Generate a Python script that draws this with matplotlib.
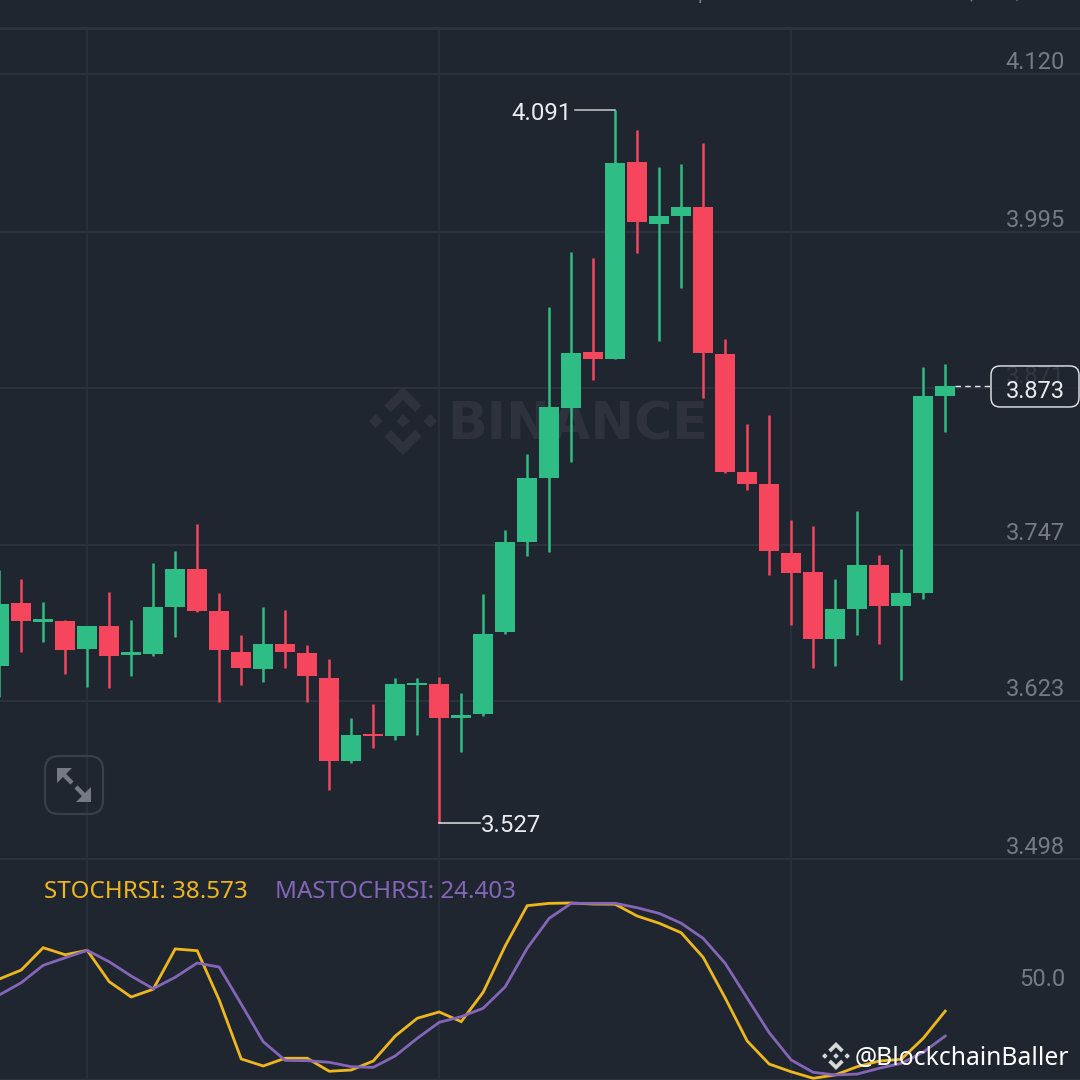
"""
plot.py - candlestick chart with STOCHRSI panel, dark exchange theme
PRODUCES: out.png (1080x1080)
"""

import numpy as np
import matplotlib
matplotlib.use("Agg")
import matplotlib.pyplot as plt
from matplotlib.patches import FancyBboxPatch, Polygon

plt.rcParams["font.family"] = ["Roboto", "DejaVu Sans"]

# ── Data ─────────────────────────────────────────────────────────────────────

opens = [3.6509, 3.7006, 3.6858, 3.6866, 3.6646, 3.6826, 3.6596, 3.6607, 3.6977, 3.7275,
         3.6945, 3.6622, 3.6488, 3.6683, 3.6614, 3.6414, 3.5754, 3.5973, 3.5957, 3.6356,
         3.6366, 3.6097, 3.6126, 3.6776, 3.7489, 3.8001, 3.8551, 3.8999, 3.8944, 4.0503,
         4.0014, 4.0072, 4.0144, 3.8981, 3.8049, 3.7949, 3.7407, 3.7256, 3.6725, 3.6958,
         3.7307, 3.6987, 3.7090, 3.8651]
highs = [3.7270, 3.7196, 3.7016, 3.6874, 3.6826, 3.7095, 3.6874, 3.7325, 3.7418, 3.7637,
         3.7085, 3.6755, 3.6974, 3.6955, 3.6675, 3.6565, 3.6095, 3.6206, 3.6414, 3.6414,
         3.6424, 3.6293, 3.7077, 3.7587, 3.8189, 3.9351, 3.9792, 3.9742, 4.0912, 4.0756,
         4.0463, 4.0485, 4.0653, 3.9100, 3.8427, 3.8498, 3.7666, 3.7618, 3.7198, 3.7737,
         3.7389, 3.7436, 3.8881, 3.8900]
lows = [3.6266, 3.6618, 3.6697, 3.6448, 3.6345, 3.6337, 3.6427, 3.6588, 3.6736, 3.6937,
        3.6226, 3.6356, 3.6385, 3.6496, 3.6226, 3.5524, 3.5738, 3.5857, 3.5925, 3.5962,
        3.5267, 3.5825, 3.6113, 3.6765, 3.7378, 3.7412, 3.8128, 3.8773, 3.8944, 3.9784,
        3.9082, 3.9502, 3.8630, 3.8038, 3.7901, 3.7228, 3.6836, 3.6496, 3.6507, 3.6755,
        3.6686, 3.6396, 3.7038, 3.8361]
closes = [3.6998, 3.6868, 3.6879, 3.6638, 3.6826, 3.6588, 3.6618, 3.6974, 3.7275, 3.6947,
          3.6638, 3.6496, 3.6683, 3.6618, 3.6427, 3.5754, 3.5962, 3.5954, 3.6364, 3.6377,
          3.6095, 3.6123, 3.6765, 3.7489, 3.8001, 3.8559, 3.8989, 3.8944, 4.0492, 4.0025,
          4.0072, 4.0144, 3.8992, 3.8049, 3.7949, 3.7418, 3.7248, 3.6725, 3.6958, 3.7307,
          3.6987, 3.7085, 3.8649, 3.8728]

stochrsi = [56.8, 61.9, 74.6, 70.6, 73.1, 55.3, 46.6, 51.0, 73.9, 72.9,
            44.9, 11.4, 7.4, 11.8, 11.8, 4.4, 5.1, 10.2, 24.4, 34.5,
            38.1, 32.6, 49.3, 75.6, 98.5, 99.8, 100.0, 99.4, 99.3, 92.6,
            88.5, 83.1, 69.1, 46.0, 21.6, 8.5, 4.1, 0.4, 2.3, 7.0,
            10.2, 11.2, 23.1, 38.573]
mastochrsi = [47.7, 54.7, 64.6, 68.9, 73.1, 66.6, 58.5, 51.3, 57.8, 65.9,
              63.6, 42.6, 21.2, 10.6, 10.4, 9.5, 7.0, 6.6, 13.1, 23.1,
              32.2, 35.4, 40.2, 52.4, 74.3, 91.3, 99.8, 99.8, 99.8, 97.3,
              94.1, 88.5, 79.9, 65.7, 45.9, 26.3, 10.8, 3.8, 2.3, 2.8,
              6.1, 8.9, 15.2, 24.403]

price_ticks = [4.120, 3.995, 3.871, 3.747, 3.623, 3.498]
stoch_ticks = [50.0]
time_grid = [4, 20, 36]     # candle index of the vertical grid lines

# ── Style ────────────────────────────────────────────────────────────────────

BG = "#1F2630"
GRID = "#2D333E"
GREEN = "#2EBD85"
RED = "#F6465D"
YELLOW = "#EFB71E"
PURPLE = "#8565B8"
LABEL = "#757A85"
WHITE = "#EAECEF"
MARK = "#2D323D"

SIZE = 1080
SPACING = 22.0      # px per candle
FIRST_X = -0.8      # px of the first candle

PANEL_TOP = 28
PANEL_MID = 859


def frac(px):
    return px / SIZE


def binance_logo(ax, cx, cy, r, color):
    # four diamonds/chevrons around a centre diamond, r = half width in px
    top = [(0, -1), (0.55, -0.45), (0.36, -0.26), (0, -0.62), (-0.36, -0.26), (-0.55, -0.45)]
    bottom = [(x, -y) for x, y in top]
    diamonds = [[(ox - 0.2, 0), (ox, -0.2), (ox + 0.2, 0), (ox, 0.2)] for ox in (-0.8, 0, 0.8)]
    for shape in [top, bottom] + diamonds:
        pts = [(cx + x * r, cy + y * r) for x, y in shape]
        ax.add_patch(Polygon(pts, closed=True, fc=color, ec="none"))


# ── Figure / axes ────────────────────────────────────────────────────────────

fig = plt.figure(figsize=(SIZE / 100, SIZE / 100), dpi=100, facecolor=BG)

# back layer: watermark, in pixel coordinates
ax_back = fig.add_axes([0, 0, 1, 1], zorder=0)
ax_back.set_xlim(0, SIZE)
ax_back.set_ylim(SIZE, 0)
ax_back.axis("off")

ax = fig.add_axes([0, frac(SIZE - PANEL_MID), 1, frac(PANEL_MID - PANEL_TOP)], zorder=1)
ax_ind = fig.add_axes([0, 0, 1, frac(SIZE - PANEL_MID)], zorder=1, sharex=ax)

# front layer: icons and labels, in pixel coordinates
ax_top = fig.add_axes([0, 0, 1, 1], zorder=2)
ax_top.set_xlim(0, SIZE)
ax_top.set_ylim(SIZE, 0)
ax_top.axis("off")

for a in (ax, ax_ind):
    a.patch.set_alpha(0)
    a.tick_params(left=False, bottom=False, labelleft=False, labelbottom=False)
    for s in a.spines.values():
        s.set_visible(False)

idx = np.arange(len(closes))
ax.set_xlim((0 - FIRST_X) / SPACING, (SIZE - FIRST_X) / SPACING)
ax.set_ylim(4.17864 - 0.0007924 * PANEL_MID, 4.17864 - 0.0007924 * PANEL_TOP)
ax_ind.set_ylim((1079 - SIZE) / 1.76, (1079 - PANEL_MID) / 1.76)

# ── Grid ─────────────────────────────────────────────────────────────────────

for t in price_ticks:
    ax.axhline(t, color=GRID, lw=1.4, zorder=1, clip_on=False)
for x in time_grid:
    ax.axvline(x, color=GRID, lw=1.1, zorder=1)
    ax_ind.axvline(x, color=GRID, lw=1.1, zorder=1)
ax.axhline(ax.get_ylim()[1], color=GRID, lw=2.2, zorder=1, clip_on=False)
ax_ind.axhline(ax_ind.get_ylim()[0], color=GRID, lw=2.2, zorder=1, clip_on=False)

# ── Candles ──────────────────────────────────────────────────────────────────

colors = [GREEN if c >= o else RED for o, c in zip(opens, closes)]
ax.vlines(idx, lows, highs, colors=colors, lw=1.8, zorder=3)
ax.bar(idx, np.abs(np.array(closes) - np.array(opens)),
       bottom=np.minimum(opens, closes), width=19.6 / SPACING,
       color=colors, lw=0, zorder=4)

# high / low markers
i_hi = int(np.argmax(highs))
i_lo = int(np.argmin(lows))
ax.plot([i_hi - 40 / SPACING, i_hi], [highs[i_hi]] * 2, color="#C9CBCF", lw=1.1, zorder=5)
ax.plot([i_lo, i_lo + 41 / SPACING], [lows[i_lo]] * 2, color="#E0E2E5", lw=1.1, zorder=5)
ax.annotate(f"{highs[i_hi]:.3f}", (i_hi, highs[i_hi]), xytext=(-31.4, -6.6),
            textcoords="offset points", ha="right", va="baseline",
            color=WHITE, fontsize=17.3, zorder=6)
ax.annotate(f"{lows[i_lo]:.3f}", (i_lo, lows[i_lo]), xytext=(29.8, -7),
            textcoords="offset points", ha="left", va="baseline",
            color=WHITE, fontsize=17.3, zorder=6)

# ── Price axis labels ────────────────────────────────────────────────────────

for t in price_ticks:
    ax.annotate(f"{t:.3f}", (frac(1065), t), xycoords=("axes fraction", "data"),
                xytext=(0, 3.6), textcoords="offset points", ha="right", va="baseline",
                color=LABEL, fontsize=17, zorder=2)
for t in stoch_ticks:
    ax_ind.annotate(f"{t:.1f}", (frac(1065), t), xycoords=("axes fraction", "data"),
                    xytext=(0, 3.6), textcoords="offset points", ha="right", va="baseline",
                    color=LABEL, fontsize=17, zorder=2)

# current price: dashed line + rounded box, the grid label shows faintly through it
last_y = closes[-1]
fig.canvas.draw()
y_px = SIZE - ax.transData.transform((0, last_y))[1]
ax.hlines(last_y, idx[-1] + 10 / SPACING, (990 - FIRST_X) / SPACING, colors=WHITE,
          lw=1.0, linestyles=(0, (4, 3)), zorder=5)
ax_top.add_patch(FancyBboxPatch((991 + 9, y_px - 20 + 9), 88 - 18, 41 - 18,
                                boxstyle="round,pad=9,rounding_size=9",
                                fc=BG, ec="none", alpha=0.78))
ax_top.add_patch(FancyBboxPatch((991 + 9, y_px - 20 + 9), 88 - 18, 41 - 18,
                                boxstyle="round,pad=9,rounding_size=9",
                                fc="none", ec=WHITE, lw=1.0))
ax_top.text(1065, y_px + 12.3, f"{last_y:.3f}", color=WHITE, fontsize=17,
            ha="right", va="baseline")

# ── Indicator panel ──────────────────────────────────────────────────────────

ax_ind.plot(idx, stochrsi, color=YELLOW, lw=2.0, zorder=3, solid_joinstyle="miter")
ax_ind.plot(idx, mastochrsi, color=PURPLE, lw=2.0, zorder=4, solid_joinstyle="miter")

ax_top.text(44, 898, f"STOCHRSI: {stochrsi[-1]:.3f}", color=YELLOW, fontsize=17.4,
            family="Noto Sans", ha="left", va="baseline")
ax_top.text(275, 898, f"MASTOCHRSI: {mastochrsi[-1]:.3f}", color=PURPLE, fontsize=17.4,
            family="Noto Sans", ha="left", va="baseline")

# ── Decoration ───────────────────────────────────────────────────────────────

# exchange watermark behind the candles
binance_logo(ax_back, 403, 421, 34, MARK)
ax_back.text(447, 440, "BINANCE", color=MARK, fontsize=37.6, fontweight="bold",
             family="DejaVu Sans", ha="left", va="baseline")

# expand button
ax_top.add_patch(FancyBboxPatch((45 + 14, 756 + 14), 58 - 28, 58 - 28,
                                boxstyle="round,pad=14,rounding_size=14",
                                fc="none", ec="#3A3F4A", lw=1.6))
ax_top.add_patch(Polygon([(57, 768), (72, 768), (57, 783)], closed=True, fc=LABEL, ec="none"))
ax_top.add_patch(Polygon([(91, 802), (76, 802), (91, 787)], closed=True, fc=LABEL, ec="none"))
ax_top.plot([62, 72], [773, 783], color=LABEL, lw=3.2, solid_capstyle="butt")
ax_top.plot([76, 86], [787, 797], color=LABEL, lw=3.2, solid_capstyle="butt")

# bottom-right account mark
binance_logo(ax_top, 836, 1056, 14, "#D8D8D8")
ax_top.text(855, 1065, "@BlockchainBaller", color="white", fontsize=17.8,
            family="Noto Sans", ha="left", va="baseline")

# descender bits of the cut-off title line
ax_top.text(703, -1, "p", color=LABEL, fontsize=14, ha="center", va="baseline", clip_on=False)
ax_top.text(972, -2, ",", color=LABEL, fontsize=14, ha="center", va="baseline", clip_on=False)
ax_top.text(1019, -2, ")", color=LABEL, fontsize=14, ha="center", va="baseline", clip_on=False)

fig.savefig("out.png", dpi=100, facecolor=BG)
